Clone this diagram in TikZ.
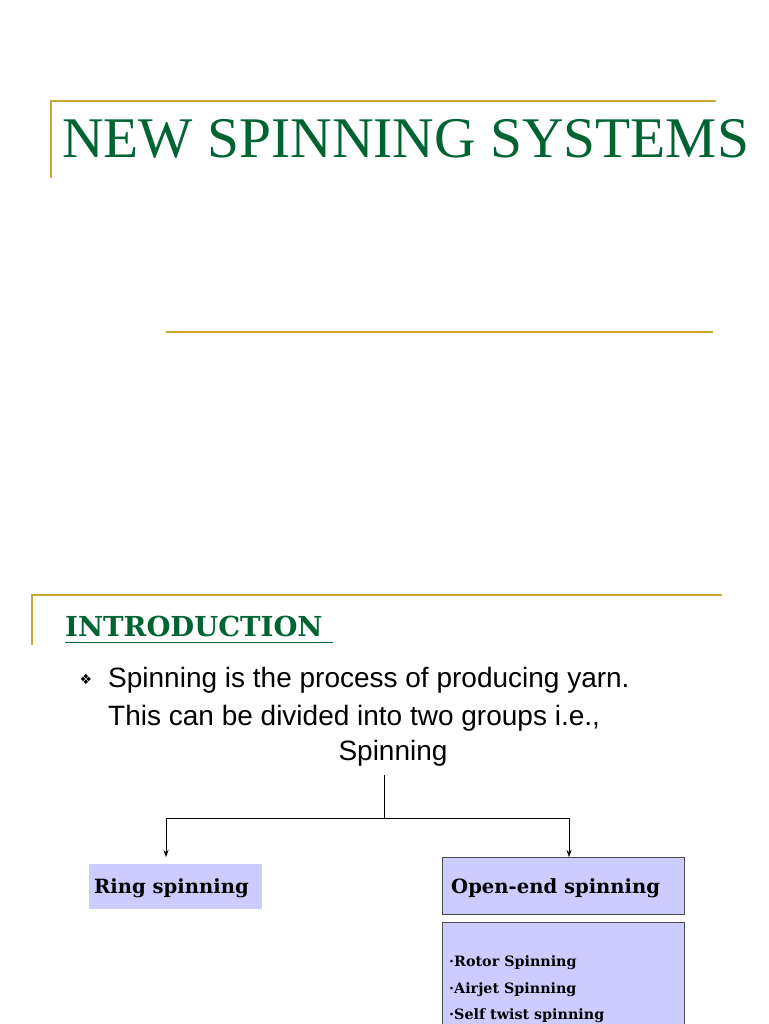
\documentclass[tikz,border=0pt]{standalone}
\usepackage{fontspec}
\setmainfont{Liberation Serif}
\setsansfont{Liberation Sans}
\newfontfamily\symf{DejaVu Sans}
\newfontfamily\bserif{DejaVu Serif}
\usetikzlibrary{arrows.meta}
\definecolor{gold}{RGB}{204,168,50}
\definecolor{dgreen}{RGB}{0,100,50}
\definecolor{lav}{RGB}{204,204,255}
\tikzset{
 rule/.style={draw=gold,line width=1.2pt},
 conn/.style={draw=black,line width=0.8pt},
 arr/.style={conn,-{Stealth[length=7pt,width=5pt]}},
 lbox/.style={fill=lav,draw=black!70,line width=0.8pt,anchor=north west,inner sep=0pt},
 btxt/.style={font=\bserif\fontsize{19.6}{22}\selectfont\bfseries,anchor=west,inner sep=0pt},
 ltxt/.style={font=\bserif\fontsize{14.3}{16}\selectfont\bfseries,anchor=west,inner sep=0pt},
 body/.style={font=\sffamily\fontsize{28}{30}\selectfont,anchor=west,inner sep=0pt}
}
\begin{document}
\begin{tikzpicture}[x=1pt,y=-1pt]
\useasboundingbox (0,0) rectangle (768,1024);
\draw[rule] (51,178) -- (51,101) -- (716,101);
\draw[rule] (166,332) -- (713,332);
\node[anchor=west,inner sep=0pt,text=dgreen,font=\fontsize{57.5}{60}\selectfont] (title) at (62,139) {NEW SPINNING SYSTEMS};
\draw[rule] (32,645) -- (32,595) -- (722,595);
\node[anchor=west,inner sep=0pt,text=dgreen,font=\bserif\fontsize{27.5}{30}\selectfont\bfseries] (intro) at (65,626) {INTRODUCTION};
\draw[dgreen,line width=1pt] (65,642) -- (333,642);
\node[anchor=center,font=\symf\fontsize{14}{16}\selectfont] (bul) at (86,679) {❖};
\node[body] (l1) at (108,680) {Spinning is the process of producing yarn.};
\node[body] (l2) at (108,718) {This can be divided into two groups i.e.,};
\node[body,anchor=center] (sp) at (393,753) {Spinning};
\coordinate (t) at (384,775);
\coordinate (j) at (384,818);
\coordinate (jl) at (166,818);
\coordinate (jr) at (569,818);
\node[fill=lav,anchor=north west,minimum width=173pt,minimum height=45pt,inner sep=0pt] (ring) at (89,864) {};
\node[btxt] (ringt) at (94,888) {Ring spinning};
\node[lbox,minimum width=242pt,minimum height=57pt] (open) at (442,857) {};
\node[btxt] (opent) at (451,888) {Open-end spinning};
\node[lbox,minimum width=242pt,minimum height=110pt] (list) at (442,922) {};
\node[ltxt] (a) at (449,963) {·Rotor Spinning};
\node[ltxt] (b) at (449,990) {·Airjet Spinning};
\node[ltxt] (c) at (449,1016) {·Self twist spinning};
\draw[conn] (t) -- (j);
\draw[conn] (jl) -- (jr);
\draw[arr] (jl) -- (166,857);
\draw[arr] (jr) -- (open.north -| jr);
\end{tikzpicture}
\end{document}
